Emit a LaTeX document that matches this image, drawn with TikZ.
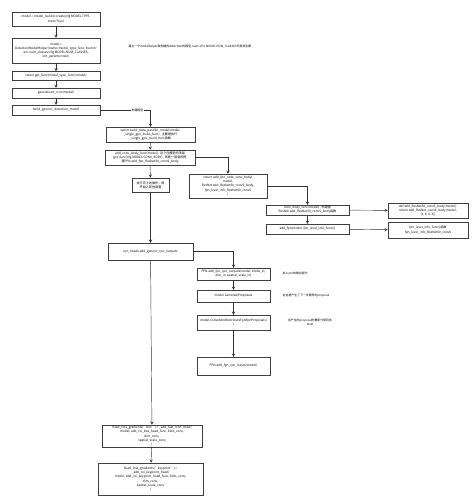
\documentclass[tikz,border=0pt]{standalone}
\usepackage{fontspec}
\setmainfont{Noto Sans CJK SC}
\usepackage{xcolor}
\usetikzlibrary{arrows, positioning, calc}

\begin{document}
\begin{tikzpicture}[
    x=1pt, y=-1pt,
    flowbox/.style={draw=black!75, rectangle, line width=0.45pt, align=center, inner sep=1pt, font=\fontsize{3.1}{4.1}\selectfont},
    note/.style={align=center, inner sep=0.5pt, font=\fontsize{2.9}{3.9}\selectfont},
    arrow/.style={line width=0.45pt, draw=black!80, ->, >=stealth}
]
\useasboundingbox (0,0) rectangle (474,503);

% Left column: model creation
\node[flowbox, minimum width=88, minimum height=14] (create) at (56,19) {model = model\_builder.create(cfg.MODEL.TYPE,\\ train=True)};
\node[flowbox, minimum width=88, minimum height=25] (helper) at (56,50.5) {model =\\ DetectionModelHelper(name=model\_type\_func, train=tr\\ain, num\_classes=cfg.MODEL.NUM\_CLASSES,\\ init\_params=train)};
\node[flowbox, minimum width=88, minimum height=9] (getfunc) at (56,76) {return get\_func(model\_type\_func)(model)};
\node[flowbox, minimum width=88, minimum height=10] (rcnn) at (56,93) {generalized\_rcnn(model)};
\node[flowbox, minimum width=88, minimum height=10] (generic) at (56,110) {build\_generic\_detection\_model};
\node[note, anchor=west] (helpnote) at (128,47) {建立一个modelhelper类构建的detectron的模型,num=CFG.MODEL.NUM\_CLASSES代表类别数};

% Middle column: backbone building
\node[flowbox, minimum width=89, minimum height=15] (parallel) at (150.5,134.5) {optim.build\_data\_parallel\_model(model,\\ \_single\_gpu\_build\_func) , 主要是执行\\ \_single\_gpu\_build\_func函数};
\node[flowbox, minimum width=90, minimum height=15] (convbody) at (150,157.5) {add\_conv\_body\_func(model) , 这个在模型的顶层\\ get\_func(cfg.MODEL.CONV\_BODY) , 就是一层层的搭\\ 建FPN.add\_fpn\_ResNet50\_conv5\_body};
\node[flowbox, minimum width=37, minimum height=14] (done) at (150.5,185) {执行完上述操作，再\\ 开始入其他调整};
\node[flowbox, minimum width=78, minimum height=24] (fpnonto) at (228,186) {return add\_fpn\_onto\_conv\_body(\\ model,\\ ResNet.add\_ResNet50\_conv5\_body,\\ fpn\_level\_info\_ResNet50\_conv5\\ )};

% Right column: ResNet + FPN
\node[flowbox, minimum width=83, minimum height=10] (resbody) at (307.5,210) {conv\_body\_func(model) , 构建基\\ ResNet.add\_ResNet50\_conv5\_body函数};
\node[flowbox, minimum width=80, minimum height=15] (resdef) at (428,210.5) {def add\_ResNet50\_conv5\_body(model):\\ return add\_ResNet\_convX\_body(model,\\ (3, 4, 6, 3))};
\node[flowbox, minimum width=83, minimum height=10] (addfpn) at (307.5,229) {add\_fpn(model, fpn\_level\_info\_func())};
\node[flowbox, minimum width=80, minimum height=16] (levelinfo) at (428,230) {fpn\_level\_info\_func()函数\\ fpn\_level\_info\_ResNet50\_conv5};

% RPN part
\node[flowbox, minimum width=85, minimum height=17] (rpnheads) at (150.5,251.5) {rpn\_heads.add\_generic\_rpn\_outputs};
\node[flowbox, minimum width=73, minimum height=12] (rpnout) at (233.5,274) {FPN.add\_fpn\_rpn\_outputs(model, blobs\_in,\\ dim\_in, spatial\_scale\_in)};
\node[flowbox, minimum width=73, minimum height=12] (genprop) at (233.5,296) {model.GenerateProposals};
\node[flowbox, minimum width=73, minimum height=15] (collect) at (233.5,322.5) {model.CollectAndDistributeFpnRpnProposals(\\ )};
\node[flowbox, minimum width=73, minimum height=18] (rpnloss) at (233.5,366) {FPN.add\_fpn\_rpn\_losses(model)};
\node[note, anchor=west] (outnote) at (282,274) {加入rpn的输出部分};
\node[note, anchor=west] (propnote) at (282,296) {这这是产生了下一步要用的proposal};
\node[note] (collnote) at (310,322) {将产生的proposal的重新分配到各\\ level};

% Heads
\node[flowbox, minimum width=100, minimum height=22] (boxhead) at (152,436) {head\_loss\_gradients['box'] = \_add\_fast\_rcnn\_head(\\ model, add\_roi\_box\_head\_func, blob\_conv,\\ dim\_conv,\\ spatial\_scale\_conv\\ )};
\node[flowbox, minimum width=105, minimum height=32] (kphead) at (150.5,479) {head\_loss\_gradients['keypoint'] =\\ \_add\_roi\_keypoint\_head(\\ model, add\_roi\_keypoint\_head\_func, blob\_conv,\\ dim\_conv,\\ spatial\_scale\_conv\\ )};

% Connections
\draw[arrow] (create) -- (helper);
\draw[arrow] (helper) -- (getfunc);
\draw[arrow] (getfunc) -- (rcnn);
\draw[arrow] (rcnn) -- (generic);
\draw[arrow] (generic.east) -| node[pos=0.37, fill=white, inner sep=0.3pt, font=\fontsize{2.9}{3.4}\selectfont] (buildlbl) {构建模型} (parallel.north);
\draw[arrow] (parallel) -- (convbody);
\draw[arrow] (convbody) -- (done);
\draw[arrow] (convbody.east) -| (fpnonto.north);
\draw[arrow] (fpnonto.east) -| (resbody.north);
\draw[arrow] (resbody) -- (resdef);
\draw[arrow] (resbody) -- (addfpn);
\draw[arrow] (addfpn) -- (levelinfo);
\draw[arrow] (done) -- (rpnheads);
\draw[arrow] (rpnheads.east) -| (rpnout.north);
\draw[arrow] (rpnout) -- (genprop);
\draw[arrow] (genprop) -- (collect);
\draw[arrow] (collect) -- (rpnloss);
\draw[arrow] (rpnheads) -- (boxhead);
\draw[arrow] (boxhead) -- (kphead);

\end{tikzpicture}
\end{document}
